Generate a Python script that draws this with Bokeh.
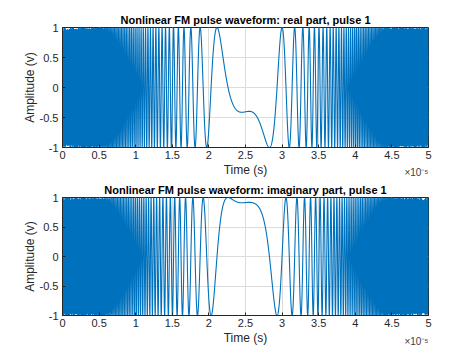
import numpy as np
from bokeh.plotting import figure
from bokeh.layouts import column
from bokeh.models import FixedTicker, Title
from bokeh.embed import file_html
from bokeh.resources import INLINE

# ---- waveform parameters ----
pulse_width = 50e-6          # s
sample_rate = 1e8            # Hz
time_unit = 1e-5             # axis multiplier (x10^-5)
center_time = 2.55           # in units of 1e-5 s (slowest point of the sweep)
center_phase = 0.63          # in units of pi
phase_coeffs = [1.7, 11.3]   # pi*(a2*s^2 + a3*s^3), s in units of 1e-5 s

x_ticks = [0, 0.5, 1, 1.5, 2, 2.5, 3, 3.5, 4, 4.5, 5]
x_tick_labels = ["0", "0.5", "1", "1.5", "2", "2.5", "3", "3.5", "4", "4.5", "5"]
y_ticks = [-1, -0.5, 0, 0.5, 1]
y_tick_labels = ["-1", "-0.5", "0", "0.5", "1"]
titles = ["Nonlinear FM pulse waveform: real part, pulse 1",
          "Nonlinear FM pulse waveform: imaginary part, pulse 1"]
x_label = "Time (s)"
y_label = "Amplitude (v)"
x_multiplier = "\u00d710\u207b\u2075"

# ---- build the complex pulse ----
n = int(round(pulse_width * sample_rate))
t = np.arange(n) / sample_rate / time_unit
s = t - center_time
phase = np.pi * (center_phase + phase_coeffs[0] * s**2 + phase_coeffs[1] * s**3)
sig = np.exp(1j * phase)
parts = [sig.real, sig.imag]

LINE = "#0072BD"
AX = "#262626"
FONT = "Liberation Sans"


def make_fig(title, y, top, frame_h, bottom, mult_standoff):
    p = figure(width=474, height=top + frame_h + bottom,
               frame_width=366, frame_height=frame_h,
               x_range=(0, 5), y_range=(-1, 1),
               output_backend="svg", toolbar_location=None,
               min_border_left=62, min_border_right=46,
               min_border_top=top, min_border_bottom=bottom)
    p.line(t, y, line_color=LINE, line_width=1.1)
    p.title.text = title
    p.title.align = "center"
    p.title.text_font = FONT
    p.title.text_font_size = "11px"
    p.title.text_font_style = "bold"
    p.title.text_color = "#000000"
    p.title.standoff = 4
    p.outline_line_color = AX
    p.outline_line_width = 1
    p.background_fill_color = "white"
    p.border_fill_color = "white"
    for ax, ticks, labels in ((p.xaxis[0], x_ticks, x_tick_labels),
                              (p.yaxis[0], y_ticks, y_tick_labels)):
        ax.ticker = FixedTicker(ticks=ticks)
        ax.major_label_overrides = {k: v for k, v in zip(ticks, labels)}
        ax.major_tick_in = 3
        ax.major_tick_out = 0
        ax.minor_tick_line_color = None
        ax.axis_line_color = AX
        ax.major_tick_line_color = AX
        ax.major_label_text_font = FONT
        ax.major_label_text_font_size = "11px"
        ax.major_label_text_color = AX
        ax.axis_label_text_font = FONT
        ax.axis_label_text_font_size = "12px"
        ax.axis_label_text_font_style = "normal"
        ax.axis_label_text_color = AX
    p.xaxis.axis_label = x_label
    p.yaxis.axis_label = y_label
    p.xaxis.major_label_standoff = 3
    p.xaxis.axis_label_standoff = 1
    p.yaxis.major_label_standoff = 4
    p.yaxis.axis_label_standoff = 0
    p.grid.grid_line_color = "#dcdcdc"
    p.grid.grid_line_width = 1
    p.add_layout(Title(text=x_multiplier, align="right", vertical_align="top",
                       text_font=FONT, text_font_size="10px",
                       text_font_style="normal", text_color="#404040",
                       standoff=mult_standoff, offset=0), "below")
    return p


p1 = make_fig(titles[0], parts[0], 27, 120, 31, -26)
p2 = make_fig(titles[1], parts[1], 18, 118, 41, -24)
layout = column(p1, p2, spacing=0)

open("out.html", "w").write(file_html(layout, INLINE))
